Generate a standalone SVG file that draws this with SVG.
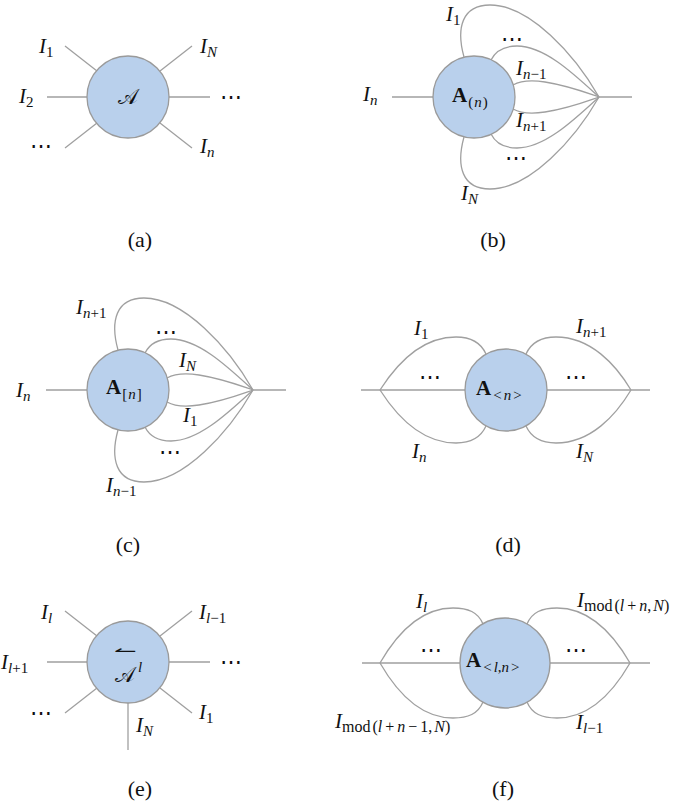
<svg xmlns="http://www.w3.org/2000/svg" width="685" height="803" viewBox="0 0 685 803">
<defs>
<style>
.bg{fill:#ffffff}
.node{fill:#b9d0ec;stroke:#9a9a9a;stroke-width:1.3}
.wire{fill:none;stroke:#a0a0a0;stroke-width:1.3}
.t{font-family:"Liberation Serif","DejaVu Serif",serif;font-size:21px;font-style:italic;fill:#111}
.s{font-size:15px}
.m{font-size:16px}
.r{font-style:normal}
.b{font-weight:bold;font-style:normal}
.cap{font-family:"Liberation Serif","DejaVu Serif",serif;font-size:22px;fill:#111;text-anchor:middle}
.dots{font-family:"DejaVu Serif",serif;font-size:22px;fill:#111;text-anchor:middle}
.cal{font-family:"DejaVu Serif","Noto Sans",serif;font-size:21px;fill:#111}
.harp{font-family:"DejaVu Sans",sans-serif;font-size:15px;fill:#111;text-anchor:middle}
</style>
</defs>
<rect class="bg" x="0" y="0" width="685" height="803"/>
<g id="connectors">
<!-- (a) -->
<path class="wire" d="M65 46 L97 71 M192 46 L160 71 M47 97 L87 97 M169 97 L210 97 M97 123 L65 148 M160 123 L192 148"/>
<!-- (b) -->
<path class="wire" d="M392 97 H433 M599 97 H632"/>
<path class="wire" d="M464 57 C456 28 462 5 490 5 C530 5 575 55 599 97"/>
<path class="wire" d="M464 137 C456 166 462 189 490 189 C530 189 575 139 599 97"/>
<path class="wire" d="M491 60 C496 50 505 46 517 46 C545 46 575 75 599 97"/>
<path class="wire" d="M491 134 C496 144 505 148 517 148 C545 148 575 119 599 97"/>
<path class="wire" d="M513 85 C522 80 532 80 545 82 C570 86 590 94 599 97"/>
<path class="wire" d="M513 109 C522 114 532 114 545 112 C570 108 590 100 599 97"/>
<!-- (c) -->
<path class="wire" d="M46 390 H87 M253 390 H286"/>
<path class="wire" d="M118 350 C110 321 116 298 144 298 C184 298 229 348 253 390"/>
<path class="wire" d="M118 430 C110 459 116 482 144 482 C184 482 229 432 253 390"/>
<path class="wire" d="M145 353 C150 343 159 339 171 339 C199 339 229 368 253 390"/>
<path class="wire" d="M145 427 C150 437 159 441 171 441 C199 441 229 412 253 390"/>
<path class="wire" d="M167 378 C176 373 186 373 199 375 C224 379 244 387 253 390"/>
<path class="wire" d="M167 402 C176 407 186 407 199 405 C224 401 244 393 253 390"/>
<!-- (d) -->
<path class="wire" d="M361 390 H465 M547 390 H650"/>
<path class="wire" d="M486 354 C481 343 471 337 456 337 C421 337 396 365 380 390"/>
<path class="wire" d="M486 426 C481 437 471 443 456 443 C421 443 396 415 380 390"/>
<path class="wire" d="M526 354 C531 343 541 337 556 337 C591 337 616 365 631 390"/>
<path class="wire" d="M526 426 C531 437 541 443 556 443 C591 443 616 415 631 390"/>
<!-- (e) -->
<path class="wire" d="M65 611 L97 636 M192 611 L160 636 M47 662 L87 662 M169 662 L210 662 M97 688 L65 713 M160 688 L192 713 M128 703 L128 750"/>
<!-- (f) -->
<path class="wire" d="M362 663 H460 M550 663 H650"/>
<path class="wire" d="M483 624 C478 612 468 608 453 608 C418 608 395 637 380 663"/>
<path class="wire" d="M483 702 C478 714 468 718 453 718 C418 718 395 689 380 663"/>
<path class="wire" d="M527 624 C532 612 542 608 557 608 C592 608 615 637 630 663"/>
<path class="wire" d="M527 702 C532 714 542 718 557 718 C592 718 615 689 630 663"/>
</g>
<g id="node-a">
<circle class="node" cx="128" cy="97" r="41"/>
<text class="cal" x="118" y="104">𝒜</text>
</g>
<g id="node-b">
<circle class="node" cx="474" cy="97" r="41"/>
<text class="t" x="452" y="102"><tspan class="b">A</tspan><tspan class="s r" dy="5" dx="1">(</tspan><tspan class="s" dx="1">n</tspan><tspan class="s r" dx="1">)</tspan></text>
</g>
<g id="node-c">
<circle class="node" cx="128" cy="390" r="41"/>
<text class="t" x="106" y="394"><tspan class="b">A</tspan><tspan class="s r" dy="5" dx="1">[</tspan><tspan class="s" dx="1">n</tspan><tspan class="s r" dx="1">]</tspan></text>
</g>
<g id="node-d">
<circle class="node" cx="506" cy="390" r="41"/>
<text class="t" x="476" y="395"><tspan class="b">A</tspan><tspan class="s r" dy="5" dx="2">&lt;</tspan><tspan class="s" dx="2">n</tspan><tspan class="s r" dx="2">&gt;</tspan></text>
</g>
<g id="node-e">
<circle class="node" cx="128" cy="662" r="41"/>
<text class="harp" transform="translate(125,656) scale(1.8,1)" x="0" y="0">↼</text>
<text class="cal" x="115" y="682">𝒜</text>
<text class="t s" x="138" y="672">l</text>
</g>
<g id="node-f">
<circle class="node" cx="505" cy="663" r="45"/>
<text class="t" x="466" y="667"><tspan class="b">A</tspan><tspan class="s r" dy="5" dx="2">&lt;</tspan><tspan class="s" dx="2">l</tspan><tspan class="s r">,</tspan><tspan class="s">n</tspan><tspan class="s r" dx="2">&gt;</tspan></text>
</g>
<g id="labels">
<!-- (a) -->
<text class="t" x="39" y="53">I<tspan class="s r" dy="4">1</tspan></text>
<text class="t" x="200" y="53">I<tspan class="s" dy="4">N</tspan></text>
<text class="t" x="19" y="103">I<tspan class="s r" dy="4">2</tspan></text>
<text class="dots" x="231" y="104">⋯</text>
<text class="dots" x="41" y="153">⋯</text>
<text class="t" x="200" y="153">I<tspan class="s" dy="4">n</tspan></text>
<text class="cap" x="140" y="247">(a)</text>
<!-- (b) -->
<text class="t" x="363" y="101">I<tspan class="s" dy="4">n</tspan></text>
<text class="t" x="446" y="21">I<tspan class="s r" dy="4">1</tspan></text>
<text class="dots" x="512" y="46">⋯</text>
<text class="t" x="516" y="75">I<tspan class="s" dy="4">n</tspan><tspan class="s r">−1</tspan></text>
<text class="t" x="516" y="127">I<tspan class="s" dy="4">n</tspan><tspan class="s r">+1</tspan></text>
<text class="dots" x="516" y="165">⋯</text>
<text class="t" x="461" y="200">I<tspan class="s" dy="4">N</tspan></text>
<text class="cap" x="493" y="247">(b)</text>
<!-- (c) -->
<text class="t" x="16" y="397">I<tspan class="s" dy="4">n</tspan></text>
<text class="t" x="76" y="314">I<tspan class="s" dy="4">n</tspan><tspan class="s r">+1</tspan></text>
<text class="dots" x="166" y="339">⋯</text>
<text class="t" x="179" y="367">I<tspan class="s" dy="4">N</tspan></text>
<text class="t" x="183" y="422">I<tspan class="s r" dy="4">1</tspan></text>
<text class="dots" x="170" y="459">⋯</text>
<text class="t" x="106" y="492">I<tspan class="s" dy="4">n</tspan><tspan class="s r">−1</tspan></text>
<text class="cap" x="128" y="552">(c)</text>
<!-- (d) -->
<text class="t" x="414" y="335">I<tspan class="s r" dy="4">1</tspan></text>
<text class="dots" x="430" y="384">⋯</text>
<text class="t" x="576" y="333">I<tspan class="s" dy="4">n</tspan><tspan class="s r">+1</tspan></text>
<text class="dots" x="576" y="384">⋯</text>
<text class="t" x="412" y="458">I<tspan class="s" dy="4">n</tspan></text>
<text class="t" x="576" y="458">I<tspan class="s" dy="4">N</tspan></text>
<text class="cap" x="508" y="552">(d)</text>
<!-- (e) -->
<text class="t" x="41" y="619">I<tspan class="s" dy="4">l</tspan></text>
<text class="t" x="199" y="619">I<tspan class="s" dy="4">l</tspan><tspan class="s r">−1</tspan></text>
<text class="t" x="1" y="669">I<tspan class="s" dy="4">l</tspan><tspan class="s r">+1</tspan></text>
<text class="dots" x="231" y="669">⋯</text>
<text class="dots" x="41" y="720">⋯</text>
<text class="t" x="199" y="719">I<tspan class="s r" dy="4">1</tspan></text>
<text class="t" x="136" y="732">I<tspan class="s" dy="4">N</tspan></text>
<text class="cap" x="140" y="796">(e)</text>
<!-- (f) -->
<text class="t" x="416" y="608">I<tspan class="s" dy="4">l</tspan></text>
<text class="t" x="577" y="607">I<tspan class="m r" dy="4">mod</tspan><tspan class="m r" dx="2">(</tspan><tspan class="m">l</tspan><tspan class="m r" dx="3">+</tspan><tspan class="m" dx="3">n</tspan><tspan class="m r">,</tspan><tspan class="m" dx="2">N</tspan><tspan class="m r">)</tspan></text>
<text class="dots" x="431" y="657">⋯</text>
<text class="dots" x="576" y="657">⋯</text>
<text class="t" x="335" y="728">I<tspan class="m r" dy="4">mod</tspan><tspan class="m r" dx="2">(</tspan><tspan class="m">l</tspan><tspan class="m r" dx="3">+</tspan><tspan class="m" dx="3">n</tspan><tspan class="m r" dx="3">−</tspan><tspan class="m r" dx="3">1,</tspan><tspan class="m" dx="2">N</tspan><tspan class="m r">)</tspan></text>
<text class="t" x="576" y="729">I<tspan class="s" dy="4">l</tspan><tspan class="s r">−1</tspan></text>
<text class="cap" x="503" y="796">(f)</text>
</g>
</svg>
